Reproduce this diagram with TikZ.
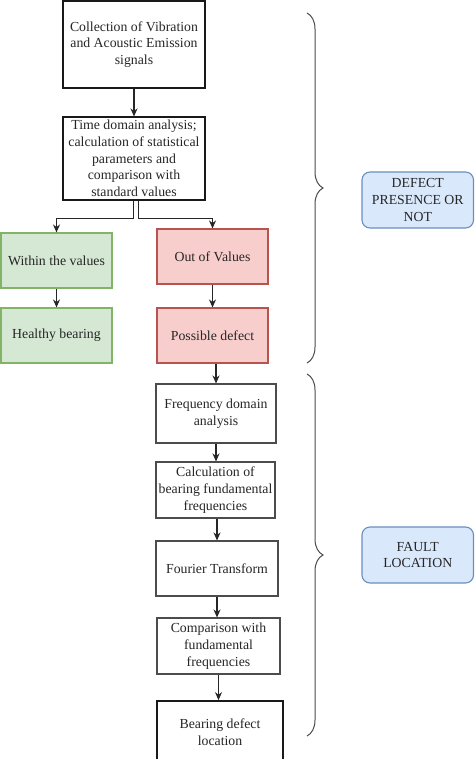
\documentclass[tikz,border=0pt]{standalone}
\usepackage{fontspec}
\setmainfont{Liberation Serif}
\newfontfamily\diagfont{Liberation Serif}
\usetikzlibrary{arrows.meta,decorations.pathreplacing,calc}
\definecolor{gfill}{HTML}{D5E8D4}
\definecolor{gdraw}{HTML}{82B366}
\definecolor{rfill}{HTML}{F8CECC}
\definecolor{rdraw}{HTML}{B85450}
\definecolor{bfill}{HTML}{DAE8FC}
\definecolor{bdraw}{HTML}{6C8EBF}
\definecolor{txt}{HTML}{262626}
\begin{document}
\begin{tikzpicture}[x=1pt,y=-1pt,
  box/.style={draw, inner sep=0pt, align=center, line width=1.1pt,
    font=\diagfont\fontsize{13.8}{16.7}\selectfont, text=txt},
  blackbox/.style={box, draw=black!90},
  graybox/.style={box, draw=black!70},
  greenbox/.style={box, draw=gdraw, fill=gfill},
  redbox/.style={box, draw=rdraw, fill=rfill},
  bluebox/.style={box, draw=bdraw, fill=bfill, rounded corners=8pt},
  arr/.style={-{Stealth[length=8pt,width=7pt]}, line width=1.1pt, black!85},
  bracestyle/.style={decorate, decoration={brace, amplitude=16pt}, line width=1pt, black!70}
]
\useasboundingbox (0,0) rectangle (474,759);
\fill[white] (0,0) rectangle (474,759);

\node[blackbox, minimum width=142pt, minimum height=87pt] (b1) at (134,44.5)
  {Collection of Vibration\\and Acoustic Emission\\signals};
\node[blackbox, minimum width=142pt, minimum height=83pt] (b2) at (134,158.5)
  {Time domain analysis;\\calculation of statistical\\parameters and\\comparison with\\standard values};
\node[greenbox, minimum width=111pt, minimum height=55pt] (w1) at (56.5,260.5) {Within the values};
\node[greenbox, minimum width=111pt, minimum height=55pt] (hb) at (56.5,335.5) {Healthy bearing};
\node[redbox, minimum width=111pt, minimum height=55pt] (o1) at (212.5,256.5) {Out of Values};
\node[redbox, minimum width=111pt, minimum height=55pt] (pd) at (212.5,335.5) {Possible defect};
\node[graybox, minimum width=120pt, minimum height=59pt] (fd) at (216,413.5) {Frequency domain\\analysis};
\node[graybox, minimum width=119pt, minimum height=56pt] (cf) at (215.5,490) {Calculation of\\bearing fundamental\\frequencies};
\node[graybox, minimum width=122pt, minimum height=55pt] (ft) at (217,568.5) {Fourier Transform};
\node[graybox, minimum width=123pt, minimum height=56pt] (cm) at (218.5,646) {Comparison with\\fundamental\\frequencies};
\node[blackbox, line width=1.8pt, minimum width=126pt, minimum height=62pt] (bd) at (220,732) {Bearing defect\\location};

\node[bluebox, minimum width=111.5pt, minimum height=56pt] (dp) at (417.75,200) {DEFECT\\PRESENCE OR\\NOT};
\node[bluebox, minimum width=111.5pt, minimum height=56pt] (fl) at (417.75,555) {FAULT\\LOCATION};

\draw[arr] (b1.south) -- (b2.north);
\draw[arr] ([xshift=-0.5pt]b2.south) -- ++(0,18) -| (w1.north);
\draw[arr] ([xshift=4.5pt]b2.south) -- ++(0,18) -| (o1.north);
\draw[arr] (w1.south) -- (hb.north);
\draw[arr] (o1.south) -- (pd.north);
\draw[arr] (pd.south -| fd.north) -- (fd.north);
\draw[arr] (fd.south) -- (fd.south |- cf.north);
\draw[arr] (cf.south -| ft.north) -- (ft.north);
\draw[arr] (ft.south) -- (ft.south |- cm.north);
\draw[arr] (cm.south) -- (cm.south |- bd.north);

\coordinate (t1) at (307,13);
\coordinate (t2) at (307,363);
\coordinate (u1) at (307,374);
\coordinate (u2) at (307,736);
\draw[bracestyle] (t1) -- (t2);
\draw[bracestyle] (u1) -- (u2);
\end{tikzpicture}
\end{document}
